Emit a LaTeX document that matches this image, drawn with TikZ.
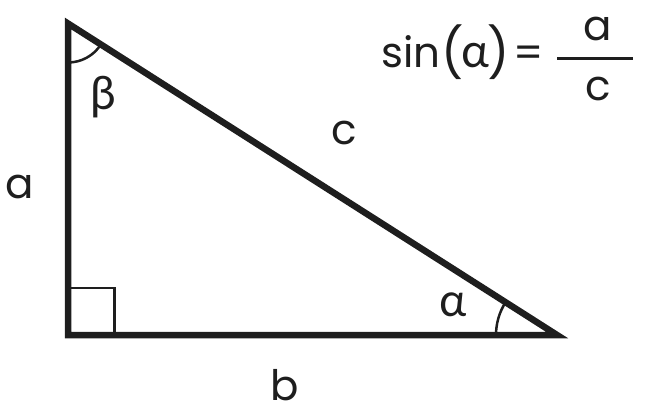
\documentclass[tikz,border=0pt]{standalone}
\usepackage{fontspec}
\setmainfont{Poppins}
\newfontfamily\greekfont{Lato}
\definecolor{ink}{HTML}{1E1E1E}
\newcommand{\bigparen}[1]{\raisebox{-3pt}{\fontsize{49}{49}\selectfont #1}}
\begin{document}
\begin{tikzpicture}[x=1pt,y=-1pt,
  side/.style={draw=ink,line width=6.5pt,line join=miter},
  thin/.style={draw=ink,line width=2.5pt},
  lbl/.style={text=ink,inner sep=0pt,font=\fontsize{42}{48}\selectfont},
  glbl/.style={text=ink,inner sep=0pt,font=\greekfont\fontsize{46}{52}\selectfont}]
\useasboundingbox (0,0) rectangle (650,408);
\coordinate (A) at (68,23.5);
\coordinate (C) at (68,335);
\coordinate (B) at (557,335);
\draw[side] (A) -- (C) -- (B) -- cycle;
\coordinate (Q) at (114.7,288);
\draw[thin] (C) rectangle (Q);
\draw[thin] (A) ++(32.5:39) arc[start angle=32.5,end angle=90,radius=39];
\draw[thin] (B) ++(180:61) arc[start angle=180,end angle=212.5,radius=61];
\node[lbl,anchor=base] (la) at (20,198.5) {a};
\node[lbl,anchor=base] (lb) at (285,400) {b};
\node[lbl,anchor=base] (lc) at (344,144.5) {c};
\node[glbl] (lbeta) at (103,97) {β};
\node[glbl,anchor=base] (lalpha) at (453,316) {α};
\node[lbl,anchor=base west] (sin) at (381,67) {sin\kern1pt\bigparen{(}\kern-2pt{\greekfont\fontsize{47}{47}\selectfont α}\kern-2pt\bigparen{)}\kern4pt=};
\node[lbl,anchor=base] (num) at (598,40) {a};
\node[lbl,anchor=base] (den) at (598.5,100) {c};
\coordinate (f1) at (557.3,58.3);
\coordinate (f2) at (632.7,58.3);
\draw[ink,line width=3pt] (f1) -- (f2);
\end{tikzpicture}
\end{document}
